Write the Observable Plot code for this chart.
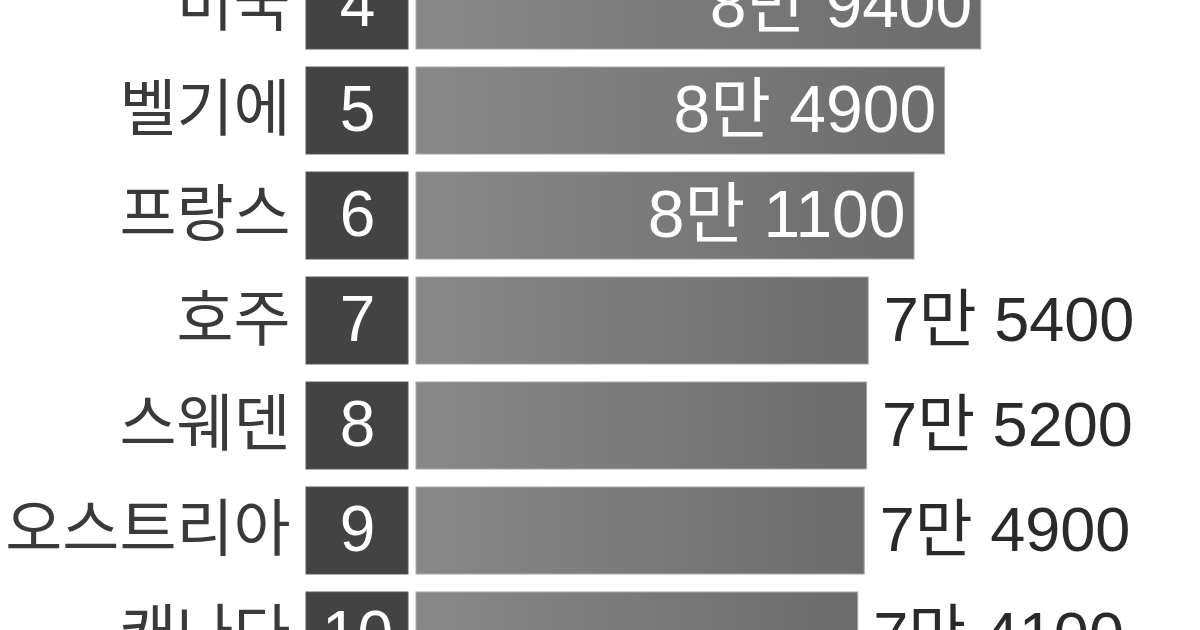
<!DOCTYPE html>
<html>
<head>
<meta charset="utf-8">
<script src="https://cdn.jsdelivr.net/npm/d3@7"></script>
<script src="https://cdn.jsdelivr.net/npm/@observablehq/plot@0.6"></script>
<style>
  html, body { margin: 0; padding: 0; background: #fff; }
  #chart { width: 1200px; height: 630px; overflow: hidden; }
  g[aria-label="rank"] text { letter-spacing: -2px; }
  g[aria-label="value-out"] text { letter-spacing: -3.8px; }
</style>
</head>
<body>
<div id="chart"></div>
<script>
const countries = ["미국", "벨기에", "프랑스", "호주", "스웨덴", "오스트리아", "캐나다"];
const ranks = [4, 5, 6, 7, 8, 9, 10];
const values = [89400, 84900, 81100, 75400, 75200, 74900, 74100];

const data = countries.map((c, i) => ({country: c, rank: ranks[i], value: values[i]}));
const fmt = v => `${Math.floor(v / 10000)}만 ${v % 10000}`;
const sansFont = "'Liberation Sans', 'Noto Sans CJK KR', sans-serif";

const defs = () => {
  const g = d3.create("svg:defs");
  const lg = g.append("linearGradient").attr("id", "barGrad")
    .attr("x1", "0").attr("x2", "1").attr("y1", "0").attr("y2", "0");
  lg.append("stop").attr("offset", "0%").attr("stop-color", "#888888");
  lg.append("stop").attr("offset", "100%").attr("stop-color", "#6c6c6c");
  return g.node();
};

const chart = Plot.plot({
  width: 1200,
  height: 630,
  margin: 0,
  style: {fontFamily: sansFont},
  x: {domain: [0, 100000], range: [262, 1066], axis: null},
  y: {domain: countries, range: [-57.6, 697.8], padding: 0.174, axis: null},
  marks: [
    defs,
    Plot.barX(data, {x: "value", y: "country", insetLeft: 154, fill: "url(#barGrad)", stroke: "#a8a8a8", strokeWidth: 1}),
    Plot.barX(data, {x1: 0, x2: 0, y: "country", insetLeft: 44, insetRight: -146, fill: "#434343", stroke: "#5a5a5a", strokeWidth: 1}),
    Plot.text(data, {x: 0, y: "country", text: d => String(d.rank), dx: 95, fill: "#ffffff", fontSize: 64, fontFamily: sansFont, ariaLabel: "rank"}),
    Plot.text(data, {x: 0, y: "country", text: "country", dx: 28, textAnchor: "end", fill: "#3a3a3a", fontSize: 62, fontFamily: "'Noto Sans CJK KR', sans-serif"}),
    Plot.text(data.filter(d => d.value >= 80000), {x: "value", y: "country", text: d => fmt(d.value), textAnchor: "end", dx: -9, fill: "#ffffff", fontSize: 66, fontFamily: sansFont, ariaLabel: "value-in"}),
    Plot.text(data.filter(d => d.value < 80000), {x: "value", y: "country", text: d => fmt(d.value), textAnchor: "start", dx: 15, fill: "#2a2a2a", fontSize: 63, fontFamily: sansFont, ariaLabel: "value-out"})
  ]
});
document.getElementById("chart").append(chart);
</script>
</body>
</html>
